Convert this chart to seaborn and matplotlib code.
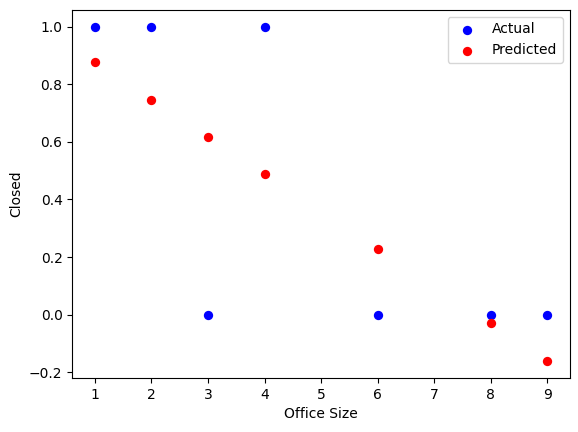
import matplotlib
matplotlib.use('Agg')
import matplotlib.pyplot as plt
import seaborn as sns

office_size = [1, 2, 3, 4, 6, 8, 9]
closed_actual = [1, 1, 0, 1, 0, 0, 0]
closed_predicted = [0.876, 0.747, 0.618, 0.489, 0.228, -0.030, -0.162]

fig, ax = plt.subplots(figsize=(5.78, 4.32), dpi=100)
sns.scatterplot(x=office_size, y=closed_actual, color='blue', s=45, linewidth=0, label='Actual', ax=ax)
sns.scatterplot(x=office_size, y=closed_predicted, color='red', s=45, linewidth=0, label='Predicted', ax=ax)
ax.set_xlabel('Office Size')
ax.set_ylabel('Closed')
ax.legend(loc='upper right')
fig.subplots_adjust(left=0.125, right=0.986, bottom=0.125, top=0.977)
fig.savefig('out.png', dpi=100)
